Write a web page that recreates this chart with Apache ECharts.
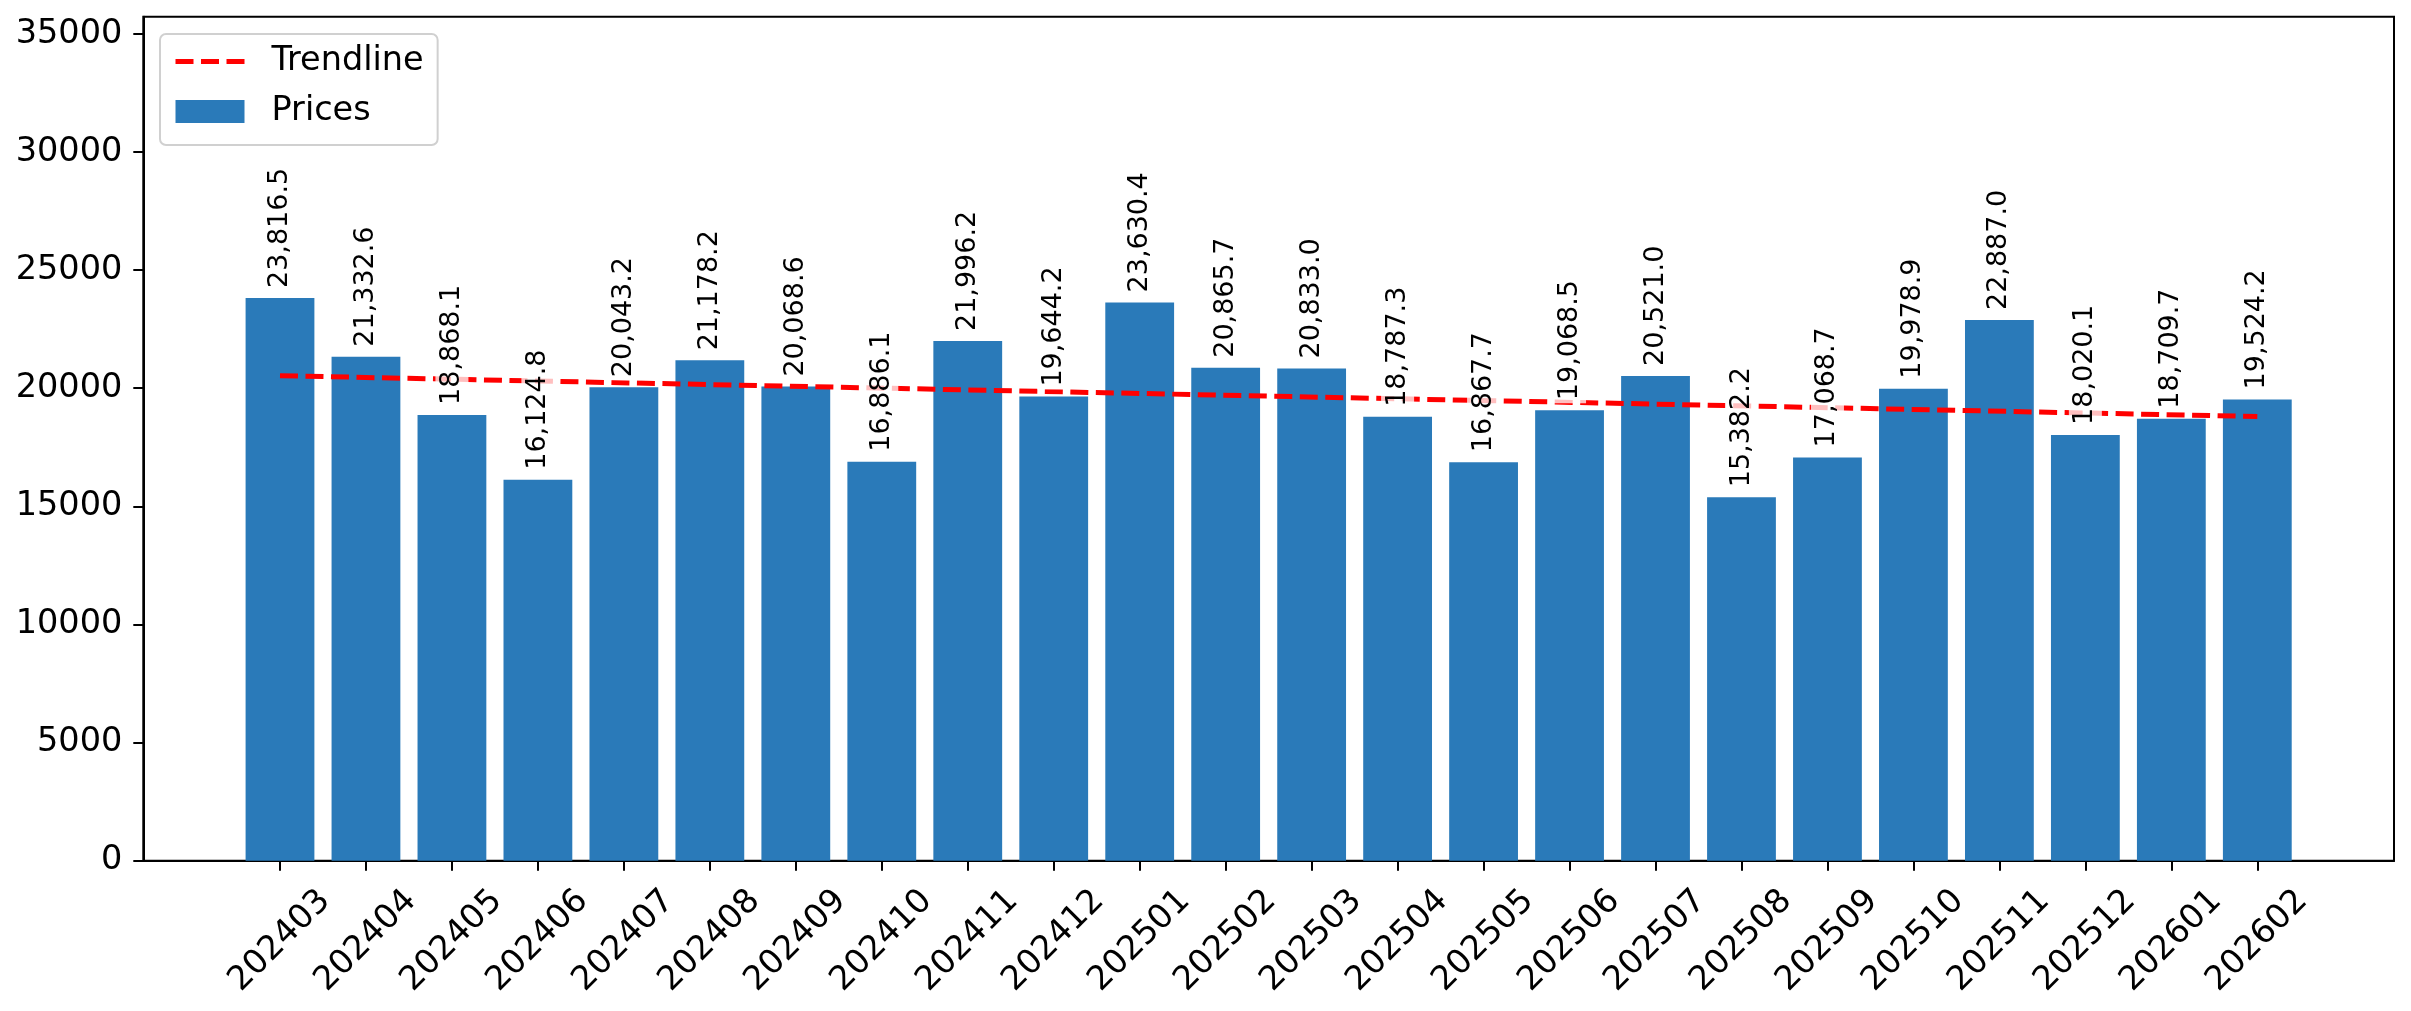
<!DOCTYPE html>
<html><head><meta charset="utf-8">
<script src="https://cdn.jsdelivr.net/npm/echarts@6/dist/echarts.min.js"></script>
<style>html,body{margin:0;padding:0;background:#fff}#c{width:2411px;height:1011px}</style>
</head><body><div id="c"></div>
<script>
const categories = ['202403','202404','202405','202406','202407','202408','202409','202410','202411','202412',
  '202501','202502','202503','202504','202505','202506','202507','202508','202509','202510','202511','202512',
  '202601','202602'];
const prices = [23816.5,21332.6,18868.1,16124.8,20043.2,21178.2,20068.6,16886.1,21996.2,19644.2,
  23630.4,20865.7,20833.0,18787.3,16867.7,19068.5,20521.0,15382.2,17068.7,19978.9,22887.0,18020.1,
  18709.7,19524.2];
const trendline = [20530, 18800]; // value at first and last month
const yTicks = [0,5000,10000,15000,20000,25000,30000,35000];

const FONT = 'DejaVu Sans';
const FS = 33.5;
function fmt(v){
  const s = v.toFixed(1); const p = s.split('.');
  return p[0].replace(/\B(?=(\d{3})+(?!\d))/g, ',') + '.' + p[1];
}
const idx = categories.map((c,i)=>i);
const barData = prices.map((v,i)=>[i, v]);
const trendData = [[0, trendline[0]], [categories.length-1, trendline[1]]];
const DASH = [18,7.5];
const LABEL_SHIFT = 0.525; // rotated tick labels are centred under their ticks

const chart = echarts.init(document.getElementById('c'), null, {renderer:'canvas'});
chart.setOption({
  animation:false,
  backgroundColor:'#fff',
  grid:{left:143.3, right:17, top:16.7, bottom:150.3, show:true, borderColor:'#000', borderWidth:2, backgroundColor:'transparent'},
  xAxis:{
    type:'value', min:-1.59, max:24.59,
    splitLine:{show:false},
    axisLine:{show:true, onZero:false, lineStyle:{color:'#000', width:2}},
    axisTick:{show:true, customValues:idx, length:10, lineStyle:{color:'#000', width:2}},
    axisLabel:{show:true, customValues:idx.map(i=>i+LABEL_SHIFT), rotate:45, margin:35,
      fontSize:FS, fontFamily:FONT, color:'#000',
      formatter:(v)=>categories[Math.round(v-LABEL_SHIFT)]}
  },
  yAxis:{
    type:'value', min:0, max:35725,
    splitLine:{show:false},
    axisLine:{show:true, onZero:false, lineStyle:{color:'#000', width:2}},
    axisTick:{show:true, customValues:yTicks, length:10, lineStyle:{color:'#000', width:2}},
    axisLabel:{show:true, customValues:yTicks, margin:21, fontSize:FS, fontFamily:FONT, color:'#000',
      formatter:(v)=>String(Math.round(v))}
  },
  legend:{
    orient:'vertical', left:160, top:34, selectedMode:false,
    data:[
      {name:'Trendline', itemStyle:{opacity:0}, lineStyle:{color:'#ff0000', width:5, type:DASH, opacity:1}},
      {name:'Prices', icon:'rect'}
    ],
    itemWidth:69, itemHeight:23, itemGap:7,
    padding:[6,14,12,13],
    borderColor:'#d0d0d0', borderWidth:2, borderRadius:6, backgroundColor:'rgba(255,255,255,0.8)',
    textStyle:{fontSize:FS, fontFamily:FONT, color:'#000', lineHeight:32, padding:[11,0,0,22]}
  },
  series:[
    {name:'Prices', type:'bar', data:barData, barWidth:68.8, z:2,
      itemStyle:{color:'#2a7ab9'}, emphasis:{disabled:true}},
    {name:'Trendline', type:'line', data:trendData, symbol:'none', z:3,
      lineStyle:{color:'#ff0000', width:5, type:DASH}, itemStyle:{color:'#ff0000'}, emphasis:{disabled:true}},
    {name:'labels', type:'bar', data:barData, barWidth:68.8, barGap:'-100%', z:4,
      itemStyle:{color:'rgba(0,0,0,0)'}, emphasis:{disabled:true},
      label:{show:true, position:'top', rotate:90, distance:7, align:'left', verticalAlign:'middle',
        fontSize:27, fontFamily:FONT, color:'#000',
        backgroundColor:'rgba(255,255,255,0.75)', padding:[3,3,3,3],
        formatter:(p)=>fmt(p.value[1])}}
  ]
});
</script></body></html>
